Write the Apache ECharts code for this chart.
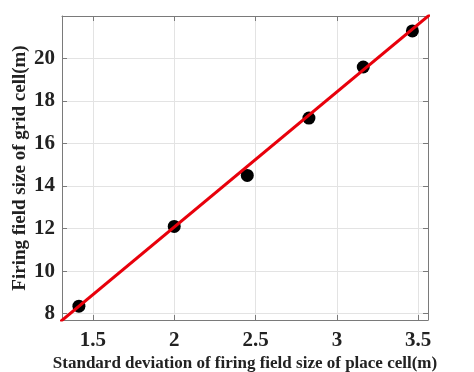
<!DOCTYPE html>
<html><head><meta charset="utf-8">
<script src="https://cdn.jsdelivr.net/npm/echarts@6/dist/echarts.min.js"></script>
<style>html,body{margin:0;padding:0;background:#fff}#c{width:474px;height:372px}</style>
</head><body><div id="c"></div>
<script>
var xValues = [1.414, 2.0, 2.449, 2.828, 3.162, 3.464];
var yValues = [8.35, 12.1, 14.5, 17.2, 19.6, 21.3];
var fitX = [1.30, 3.58];
var fitY = [7.62, 22.12];
var xTicks = [1.5, 2, 2.5, 3, 3.5];
var yTicks = [8, 10, 12, 14, 16, 18, 20];
var xTitle = 'Standard deviation of firing field size of place cell(m)';
var yTitle = 'Firing field size of grid cell(m)';

var pts = xValues.map(function(x, i){ return [x, yValues[i]]; });
var fit = fitX.map(function(x, i){ return [x, fitY[i]]; });
var font = '"Liberation Serif", "Times New Roman", serif';
var axisCol = '#7a7a7a';
function mkX(pos, show){
  return {type:'value', position:pos, min:1.31, max:3.56,
    axisLine:{show:true, onZero:false, lineStyle:{color:axisCol, width:1}},
    axisTick:{show:true, inside:true, length:5, customValues:xTicks, lineStyle:{color:axisCol}},
    axisLabel:{show:show, customValues:xTicks, margin:10, color:'#222', fontFamily:font, fontWeight:'bold', fontSize:21},
    splitLine:{show:show, lineStyle:{color:'#e3e3e3'}}};
}
function mkY(pos, show){
  return {type:'value', position:pos, min:7.7, max:22,
    axisLine:{show:true, onZero:false, lineStyle:{color:axisCol, width:1}},
    axisTick:{show:true, inside:true, length:5, customValues:yTicks, lineStyle:{color:axisCol}},
    axisLabel:{show:show, customValues:yTicks, margin:7, color:'#222', fontFamily:font, fontWeight:'bold', fontSize:21},
    splitLine:{show:show, lineStyle:{color:'#e3e3e3'}}};
}
var xa = mkX('bottom', true);
xa.name = xTitle; xa.nameLocation = 'middle'; xa.nameGap = 35; xa.nameMoveOverlap = false;
xa.nameTextStyle = {fontFamily:font, fontWeight:'bold', fontSize:17, color:'#222'};
var ya = mkY('left', true);
ya.name = yTitle; ya.nameLocation = 'middle'; ya.nameGap = 32; ya.nameMoveOverlap = false;
ya.nameTextStyle = {fontFamily:font, fontWeight:'bold', fontSize:19, color:'#222'};
var chart = echarts.init(document.getElementById('c'), null, {renderer:'canvas'});
chart.setOption({
  animation:false,
  backgroundColor:'#fff',
  grid:{left:62, top:16, right:46, bottom:52, containLabel:false, outerBoundsMode:'none'},
  xAxis:[xa, mkX('top', false)],
  yAxis:[ya, mkY('right', false)],
  series:[
    {type:'line', data:fit, xAxisIndex:0, yAxisIndex:0, symbol:'none', clip:true, z:3,
     lineStyle:{color:'#e8000b', width:3}},
    {type:'scatter', data:pts, xAxisIndex:0, yAxisIndex:0, symbolSize:13, z:2,
     itemStyle:{color:'#000', opacity:1}}
  ]
});
</script></body></html>
